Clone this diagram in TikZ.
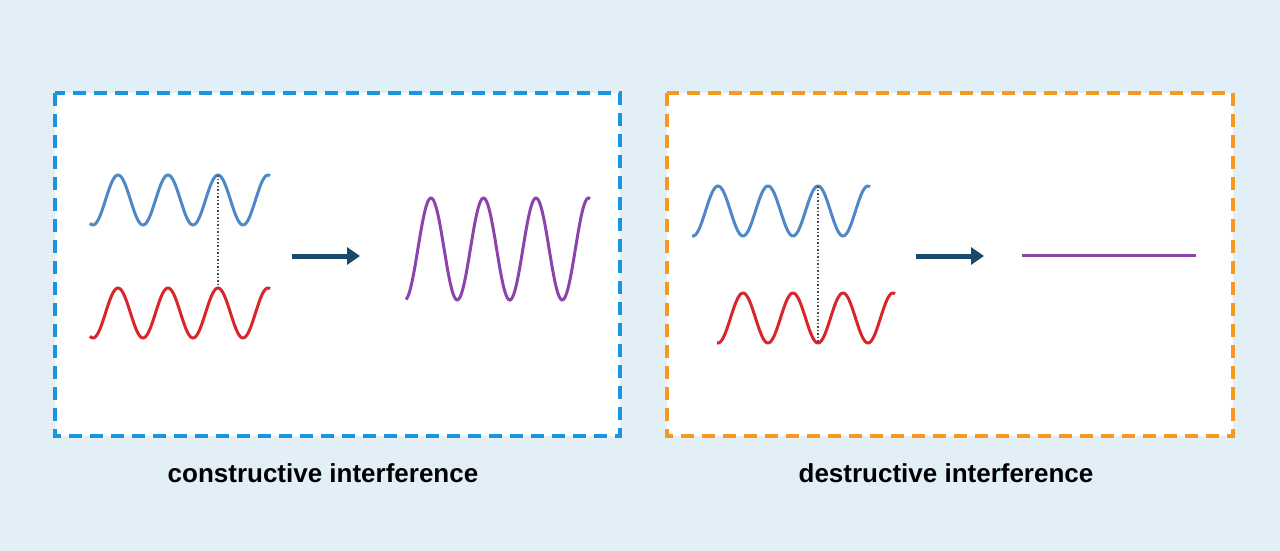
\documentclass[tikz,border=0pt]{standalone}
\usepackage{fontspec}
\setmainfont{Liberation Sans}
\usetikzlibrary{arrows.meta}
\begin{document}
\begin{tikzpicture}[x=1pt,y=-1pt,
  framebox/.style={line width=3.5pt,dash pattern=on 13pt off 8pt,fill=white},
  wave/.style={line width=3pt,smooth,samples=150},
  guide/.style={dotted,line width=1.5pt,draw=gray!60!black},
  arr/.style={line width=5pt,draw=navyc,-{Triangle[length=13pt,width=17pt]}},
  lbl/.style={font=\bfseries\fontsize{26}{30}\selectfont}]
\definecolor{bgc}{HTML}{E3EFF7}
\definecolor{bluec}{HTML}{1A96E0}
\definecolor{orangec}{HTML}{F5991F}
\definecolor{wblue}{HTML}{4F88C6}
\definecolor{wred}{HTML}{D9262B}
\definecolor{wpurple}{HTML}{8B44AC}
\definecolor{navyc}{HTML}{194A6E}
\fill[bgc] (0,0) rectangle (1280,551);
\useasboundingbox (0,0) rectangle (1280,551);
\draw[framebox,draw=bluec] (55,93) rectangle (620,436);
\draw[framebox,draw=orangec] (667,93) rectangle (1233,436);
% constructive
\draw[wave,draw=wblue,domain=90:270] plot (\x,{200-25*cos(7.2*(\x-118))});
\draw[wave,draw=wred,domain=90:270] plot (\x,{313-25*cos(7.2*(\x-118))});
\coordinate (c1) at (218,175); \coordinate (c2) at (218,288);
\draw[guide] (c1) -- (c2);
\coordinate (a1) at (292,256); \coordinate (a2) at (360,256);
\draw[arr] (a1) -- (a2);
\draw[wave,draw=wpurple,domain=406:590] plot (\x,{249-51*cos(6.857*(\x-431))});
% destructive
\draw[wave,draw=wblue,domain=692:870] plot (\x,{211-25*cos(7.2*(\x-718))});
\draw[wave,draw=wred,domain=717:895] plot (\x,{318+25*cos(7.2*(\x-818))});
\coordinate (d1) at (818,186); \coordinate (d2) at (818,343);
\draw[guide] (d1) -- (d2);
\coordinate (b1) at (916,256); \coordinate (b2) at (984,256);
\draw[arr] (b1) -- (b2);
\coordinate (p1) at (1022,255); \coordinate (p2) at (1196,255);
\draw[line width=3pt,draw=wpurple] (p1) -- (p2);
\node[lbl] (t1) at (323,473) {constructive interference};
\node[lbl] (t2) at (946,473) {destructive interference};
\end{tikzpicture}
\end{document}
